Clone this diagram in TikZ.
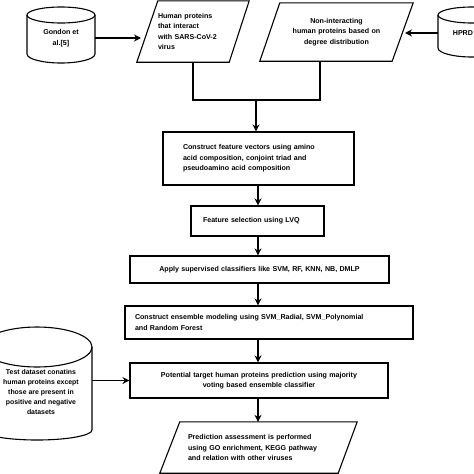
\documentclass[tikz,border=0pt]{standalone}
\usepackage{fontspec}
\setmainfont{Liberation Sans}
\usetikzlibrary{arrows.meta}
\newcommand\tfont{\fontsize{7.1pt}{10.6pt}\selectfont\bfseries}
\tikzset{
  x=1pt, y=-1pt,
  lw/.style={line width=1.1pt},
  box/.style={draw, lw, inner ysep=0pt, font=\tfont},
  txt/.style={inner sep=0pt, font=\tfont},
  arr/.style={lw, -{Stealth[length=7pt,width=7pt]}},
}
\begin{document}
\begin{tikzpicture}
\clip (0,0) rectangle (474,474);
\useasboundingbox (0,0) rectangle (474,474);
\fill[white] (0,0) rectangle (474,474);

% top parallelograms
\node[txt, minimum width=112pt, minimum height=61pt, inner xsep=21pt, text width=70pt, align=left] (p1) at (193,31.5)
  {Human proteins\\that interact\\with SARS-CoV-2\\virus};
\draw[lw] ([xshift=21pt]p1.north west) -- (p1.north east) -- ([xshift=-20pt]p1.south east) -- (p1.south west) -- cycle;

\node[txt, minimum width=153pt, minimum height=58pt, inner xsep=20pt, text width=113pt, align=center] (p2) at (336.5,32)
  {Non-interacting\\human proteins based on\\degree distribution};
\draw[lw] ([xshift=20pt]p2.north west) -- (p2.north east) -- ([xshift=-21pt]p2.south east) -- (p2.south west) -- cycle;

% cylinders
\draw[lw] (27,15) arc[start angle=180,end angle=360,x radius=34,y radius=8] -- (95,54)
  arc[start angle=0,end angle=180,x radius=34,y radius=9] -- cycle;
\draw[lw] (27,15) arc[start angle=180,end angle=0,x radius=34,y radius=8];
\node[txt, minimum width=68pt, align=center] (gondon) at (61,38) {Gondon et\\al.[5]};

\draw[lw] (438,15) arc[start angle=180,end angle=360,x radius=34,y radius=8] -- (506,48)
  arc[start angle=0,end angle=180,x radius=34,y radius=9] -- cycle;
\draw[lw] (438,15) arc[start angle=180,end angle=0,x radius=34,y radius=8];
\node[txt, text width=35pt, align=right] (hprd) at (455.5,33) {HPRD};

\draw[lw] (-18,347) arc[start angle=180,end angle=360,x radius=55,y radius=20] -- (92,430)
  arc[start angle=0,end angle=180,x radius=55,y radius=10] -- cycle;
\draw[lw] (-18,347) arc[start angle=180,end angle=0,x radius=55,y radius=20];
\node[txt, minimum width=102pt, align=center, font=\fontsize{6.9pt}{10.2pt}\selectfont\bfseries] (tcyl) at (41,392)
  {Test dataset conatins\\human proteins except\\those are present in\\positive and negative\\datasets};

% boxes
\node[box, minimum height=53pt, inner xsep=20pt, text width=151pt, align=left] (b1) at (258.5,158.5)
  {Construct feature vectors using amino\\acid composition, conjoint triad and\\pseudoamino acid composition};
\node[box, minimum height=30pt, inner xsep=12pt, text width=109pt, align=left] (b2) at (257.5,221)
  {Feature selection using LVQ};
\node[box, minimum height=27pt, inner xsep=10pt, text width=239pt, align=center] (b3) at (259.5,269.5)
  {Apply supervised classifiers like SVM, RF, KNN, NB, DMLP};
\node[box, minimum height=33pt, inner xsep=10pt, text width=268pt, align=left] (b4) at (269,322.5)
  {Construct ensemble modeling using SVM\_Radial, SVM\_Polynomial\\and Random Forest};
\node[box, minimum height=35pt, inner xsep=10pt, text width=238pt, align=center] (b5) at (259,380.5)
  {Potential target human proteins prediction using majority\\voting based ensemble classifier};

\node[txt, minimum width=197pt, minimum height=51pt, inner xsep=28pt, text width=141pt, align=left] (p3) at (258.5,447.5)
  {Prediction assessment is performed\\using GO enrichment, KEGG pathway\\and relation with other viruses};
\draw[lw] ([xshift=20pt]p3.north west) -- (p3.north east) -- ([xshift=-19pt]p3.south east) -- (p3.south west) -- cycle;

% connectors
\coordinate (in1) at (141,38);
\coordinate (in2) at (405,33);
\coordinate (jn) at (256,100);
\coordinate (p2b) at (320,61);
\coordinate (ax) at (258,0);

\draw[arr] (gondon.east) -- (gondon.east -| in1);
\draw[arr] (hprd.west) -- (hprd.west -| in2);
\draw[lw] (p1.south) |- (jn) -| (p2b);
\draw[arr] (jn) -- (jn |- b1.north);
\draw[arr] (b1.south -| ax) -- (b2.north -| ax);
\draw[arr] (b2.south -| ax) -- (b3.north -| ax);
\draw[arr] (b3.south -| ax) -- (b4.north -| ax);
\draw[arr] (b4.south -| ax) -- (b5.north -| ax);
\draw[arr] (b5.south -| ax) -- (p3.north -| ax);
\draw[arr] (tcyl.east |- b5.west) -- (b5.west);
\end{tikzpicture}
\end{document}
